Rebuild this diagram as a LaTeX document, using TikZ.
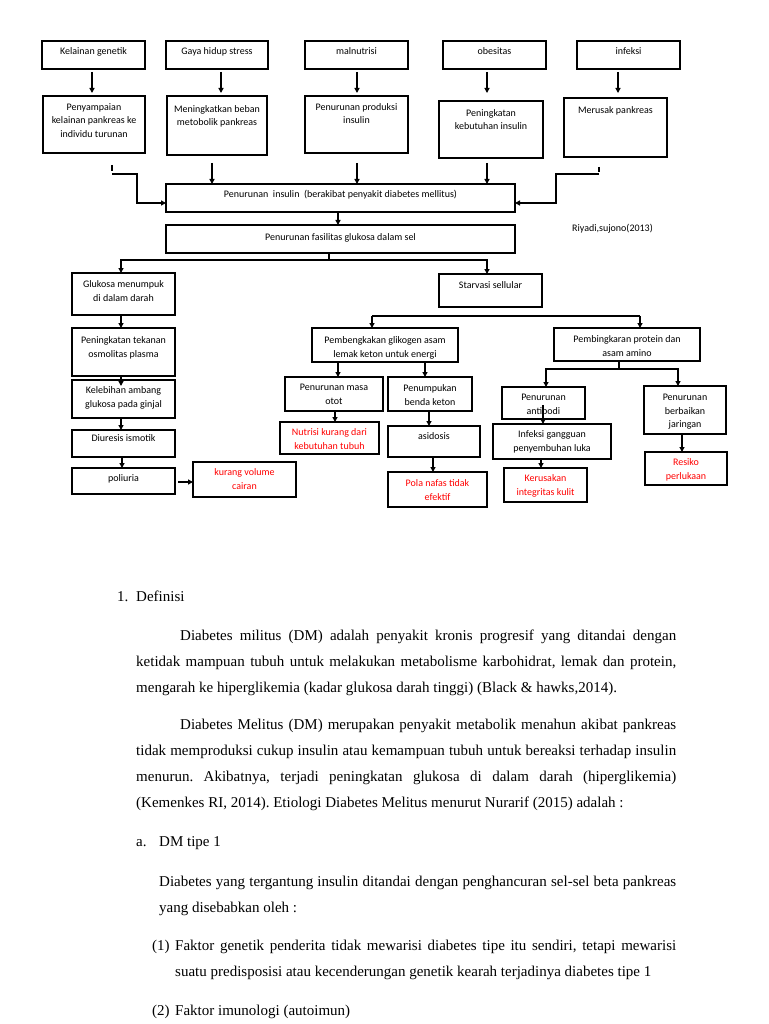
\documentclass[tikz,border=0pt]{standalone}
\usepackage{fontspec}
\setmainfont{Liberation Serif}
\newfontfamily\diagfont{Carlito}
\usetikzlibrary{arrows.meta}
\definecolor{redtxt}{RGB}{255,0,0}
\frenchspacing
\tikzset{
  box/.style={draw, line width=1.7pt, inner sep=0pt, outer sep=0pt, anchor=north west},
  arr/.style={line width=1.5pt, -{Triangle[length=5pt,width=5pt]}},
  ln/.style={line width=1.5pt},
  body/.style={inner sep=0pt, anchor=base west, font=\fontsize{15}{18}\selectfont\frenchspacing},
  lbl/.style={inner sep=0pt, anchor=base west, font=\diagfont\fontsize{10}{13.5}\selectfont},
}
\newcommand\bx[8][]{%
  \pgfmathsetmacro\bw{#5-#3}\pgfmathsetmacro\bh{#6-#4}%
  \node[box,#1] (#2) at (#3,#4) {\vbox to \bh pt{\hsize=\bw pt\relax\vskip #7pt\relax
    \diagfont\fontsize{10}{13.5}\selectfont\centering\leavevmode\rule{0pt}{7.5pt}#8\par\vfil}};}
\begin{document}
\begin{tikzpicture}[x=1pt,y=-1pt]
\fill[white] (0,0) rectangle (768,1024);
\useasboundingbox (0,0) rectangle (768,1024);
% top row
\bx{k1}{42}{41}{145}{69}{6}{Kelainan genetik}
\bx{g1}{166}{41}{268}{69}{6}{Gaya hidup stress}
\bx{m1}{305}{41}{408}{69}{6}{malnutrisi}
\bx{o1}{443}{41}{546}{69}{6}{obesitas}
\bx{i1}{577}{41}{680}{69}{6}{infeksi}
% second row
\bx{k2}{43}{96}{145}{153}{7}{Penyampaian\\kelainan pankreas ke\\individu turunan}
\bx{g2}{167}{96}{267}{155}{9}{Meningkatkan beban\\metobolik pankreas}
\bx{m2}{305}{96}{408}{153}{7}{Penurunan produksi\\insulin}
\bx{o2}{439}{101}{543}{158}{8}{Peningkatan\\kebutuhan insulin}
\bx{i2}{564}{98}{667}{157}{8}{Merusak pankreas}
\draw[arr,shorten <=3pt,shorten >=3pt] (k1.south -| 92,0) -- (k2.north -| 92,0);
\draw[arr,shorten <=3pt,shorten >=3pt] (g1.south -| 221,0) -- (g2.north -| 221,0);
\draw[arr,shorten <=3pt,shorten >=3pt] (m1.south -| 357,0) -- (m2.north -| 357,0);
\draw[arr,shorten <=3pt,shorten >=8pt] (o1.south -| 487,0) -- (o2.north -| 487,0);
\draw[arr,shorten <=3pt,shorten >=5pt] (i1.south -| 618,0) -- (i2.north -| 618,0);
% insulin boxes
\bx{ins}{166}{184}{515}{212}{6}{Penurunan~ insulin~ (berakibat penyakit diabetes mellitus)}
\bx{fas}{166}{225}{515}{253}{8}{Penurunan fasilitas glukosa dalam sel}
\node[lbl] (src) at (572,232) {Riyadi,sujono(2013)};
\draw[arr,shorten <=8pt] (g2.south -| 212,0) -- (ins.north -| 212,0);
\draw[arr,shorten <=10pt] (m2.south -| 357,0) -- (ins.north -| 357,0);
\draw[arr,shorten <=5pt] (o2.south -| 487,0) -- (ins.north -| 487,0);
\draw[ln] (112,165) -- (112,171);
\draw[arr] (112,174) -- (137,174) -- (137,203) -- (ins.west |- 0,203);
\draw[ln] (599,167) -- (599,172);
\draw[arr] (599,174) -- (556,174) -- (556,203) -- (ins.east |- 0,203);
\draw[arr] (ins.south -| 338,0) -- (fas.north -| 338,0);
% left column
\bx{glu}{72}{273}{175}{315}{7}{Glukosa menumpuk\\di dalam darah}
\bx{pen}{72}{328}{175}{376}{8}{Peningkatan tekanan\\osmolitas plasma}
\bx{keb}{72}{380}{175}{418}{6}{Kelebihan ambang\\glukosa pada ginjal}
\bx{diu}{72}{430}{175}{457}{4}{Diuresis ismotik}
\bx{pol}{72}{468}{175}{494}{6}{poliuria}
\bx[text=redtxt]{kur}{193}{462}{296}{497}{6}{kurang volume\\cairan}
\bx{sta}{439}{274}{542}{307}{7}{Starvasi sellular}
\draw[ln] (fas.south -| 329,0) -- (329,260);
\draw[arr] (329,260) -- (121,260) -- (glu.north -| 121,0);
\draw[arr] (329,260) -- (487,260) -- (sta.north -| 487,0);
\draw[arr] (glu.south -| 121,0) -- (pen.north -| 121,0);
\draw[arr] (pen.south -| 121,0) -- (121,386);
\draw[arr] (keb.south -| 121,0) -- (diu.north -| 121,0);
\draw[arr] (diu.south -| 122,0) -- (pol.north -| 122,0);
\draw[arr,shorten <=3pt] (pol.east |- 0,482) -- (kur.west |- 0,482);
% right part
\bx{pbk}{312}{328}{458}{362}{8}{Pembengkakan glikogen asam\\lemak keton untuk energi}
\bx{pbp}{554}{328}{700}{361}{7}{Pembingkaran protein dan\\asam amino}
\draw[ln] (372,316) -- (640,316);
\draw[arr] (372,316) -- (pbk.north -| 372,0);
\draw[arr] (640,316) -- (pbp.north -| 640,0);
\bx{pmo}{285}{377}{383}{411}{6}{Penurunan masa\\otot}
\bx{pbn}{388}{377}{472}{411}{7}{Penumpukan\\benda keton}
\draw[arr] (pbk.south -| 338,0) -- (pmo.north -| 338,0);
\draw[arr] (pbk.south -| 425,0) -- (pbn.north -| 425,0);
\bx[text=redtxt]{nut}{280}{422}{379}{454}{6}{Nutrisi kurang dari\\kebutuhan tubuh}
\bx{asi}{388}{426}{480}{457}{6}{asidosis}
\bx[text=redtxt]{pnf}{388}{472}{487}{507}{7}{Pola nafas tidak\\efektif}
\draw[arr] (pmo.south -| 335,0) -- (nut.north -| 335,0);
\draw[arr] (pbn.south -| 429,0) -- (asi.north -| 429,0);
\draw[arr] (asi.south -| 433,0) -- (pnf.north -| 433,0);
\bx{pab}{502}{387}{585}{419}{6}{Penurunan\\antibodi}
\bx{inf}{493}{424}{611}{459}{6}{Infeksi gangguan\\penyembuhan luka}
\bx[text=redtxt]{ker}{504}{468}{587}{502}{6}{Kerusakan\\integritas kulit}
\bx{pbj}{644}{386}{726}{434}{7}{Penurunan\\berbaikan\\jaringan}
\bx[text=redtxt]{res}{645}{452}{727}{485}{6}{Resiko\\perlukaan}
\draw[ln] (pbp.south -| 619,0) -- (619,369);
\draw[arr] (619,369) -- (546,369) -- (pab.north -| 546,0);
\draw[arr] (619,369) -- (678,369) -- (pbj.north -| 678,0);
\draw[arr] (543,405) -- (inf.north -| 543,0);
\draw[arr] (inf.south -| 541,0) -- (ker.north -| 541,0);
\draw[arr] (pbj.south -| 682,0) -- (res.north -| 682,0);
% body text
\node[body] (n1) at (117,601) {1.};
\node[body] (def) at (136,601) {Definisi};
\node[body] (p1a) at (180,640) {\makebox[496pt][s]{Diabetes militus (DM) adalah penyakit kronis progresif yang ditandai dengan}};
\node[body] (p1b) at (136,666) {\makebox[540pt][s]{ketidak mampuan tubuh untuk melakukan metabolisme karbohidrat, lemak dan protein,}};
\node[body] (p1c) at (136,692) {mengarah ke hiperglikemia (kadar glukosa darah tinggi) (Black \& hawks,2014).};
\node[body] (p2a) at (180,729) {\makebox[496pt][s]{Diabetes Melitus (DM) merupakan penyakit metabolik menahun akibat pankreas}};
\node[body] (p2b) at (136,755) {\makebox[540pt][s]{tidak memproduksi cukup insulin atau kemampuan tubuh untuk bereaksi terhadap insulin}};
\node[body] (p2c) at (136,781) {\makebox[540pt][s]{menurun. Akibatnya, terjadi peningkatan glukosa di dalam darah (hiperglikemia)}};
\node[body] (p2d) at (136,807) {(Kemenkes RI, 2014). Etiologi Diabetes Melitus menurut Nurarif (2015) adalah :};
\node[body] (na) at (136,846) {a.};
\node[body] (dm1) at (159,846) {DM tipe 1};
\node[body] (p3a) at (159,886) {\makebox[517pt][s]{Diabetes yang tergantung insulin ditandai dengan penghancuran sel-sel beta pankreas}};
\node[body] (p3b) at (159,912) {yang disebabkan oleh :};
\node[body] (l1) at (152,950) {(1)};
\node[body] (l1a) at (175,950) {\makebox[501pt][s]{Faktor genetik penderita tidak mewarisi diabetes tipe itu sendiri, tetapi mewarisi}};
\node[body] (l1b) at (175,976) {suatu predisposisi atau kecenderungan genetik kearah terjadinya diabetes tipe 1};
\node[body] (l2) at (152,1015) {(2)};
\node[body] (l2a) at (175,1015) {Faktor imunologi (autoimun)};
\end{tikzpicture}
\end{document}
